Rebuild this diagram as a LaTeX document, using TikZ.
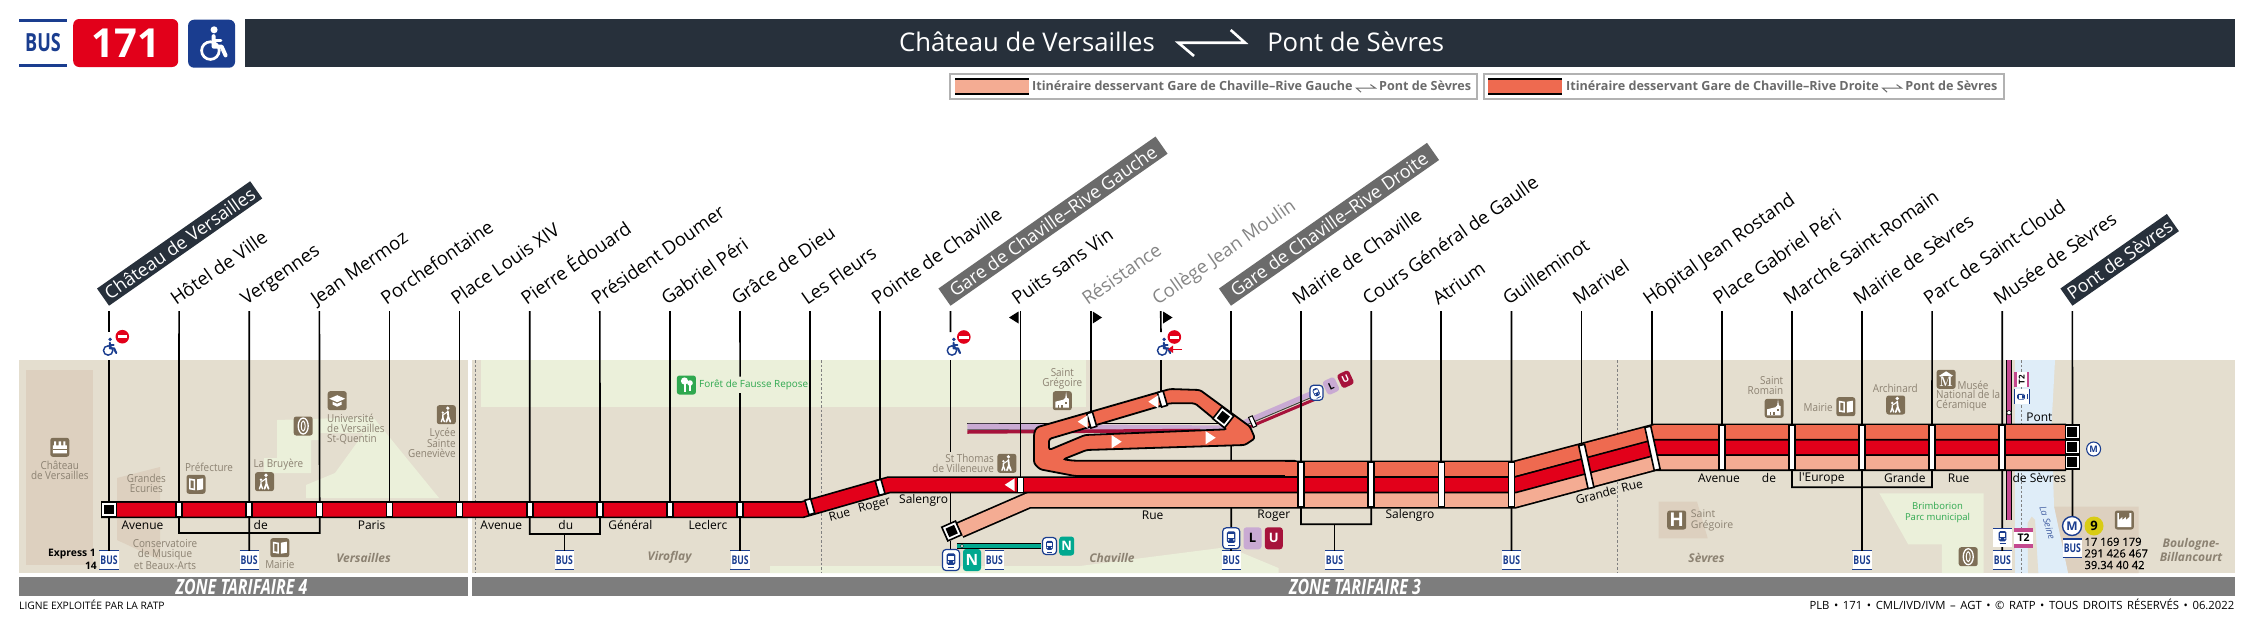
\documentclass[tikz,border=0pt]{standalone}
\usepackage{fontspec}
\setmainfont{Open Sans}
\newfontfamily\pfn{Open Sans}
\newfontfamily\pfm[FakeStretch=0.9]{Open Sans}
\newfontfamily\pfc[FakeStretch=0.72]{Open Sans}
\newfontfamily\pfz[FakeStretch=0.76]{Open Sans}
\newfontfamily\pfb[FakeBold=0.3]{Open Sans}
\definecolor{ink}{HTML}{27303B}
\definecolor{ratpred}{HTML}{E2001A}
\definecolor{ratpblue}{HTML}{1A3D8F}
\definecolor{bandor}{HTML}{EE6A50}
\definecolor{bandpale}{HTML}{F4AC93}
\definecolor{mapbg}{HTML}{E4DECF}
\definecolor{mapdark}{HTML}{DDD0BF}
\definecolor{mapgreen}{HTML}{EBF0DA}
\definecolor{river}{HTML}{DFEDF8}
\definecolor{tilebrown}{HTML}{7E6F57}
\definecolor{mapgrey}{HTML}{8C8272}
\definecolor{zonegrey}{HTML}{7D7D7D}
\definecolor{forest}{HTML}{2FA84F}
\definecolor{lilac}{HTML}{C9AAD3}
\definecolor{crimson}{HTML}{A6123B}
\definecolor{teal}{HTML}{00A88F}
\definecolor{tpink}{HTML}{C4488E}
\definecolor{lineyellow}{HTML}{D9CC14}
\tikzset{
  stem/.style={draw=black,line width=1.7pt},
  stlabel/.style={rotate=35,anchor=base west,inner sep=0pt,text=black,font=\pfn\fontsize{18.5}{18.5}\selectfont},
  stgrey/.style={stlabel,text=black!48},
  stbox/.style={rotate=35,anchor=south west,inner sep=0pt,minimum height=21pt,text=white,font=\pfn\fontsize{18}{18}\selectfont},
  street/.style={inner sep=0pt,text=black,font=\pfn\fontsize{12}{12}\selectfont},
  mapt/.style={inner sep=0pt,text=mapgrey,align=center,font=\pfm\fontsize{11}{10}\selectfont},
  commune/.style={inner sep=0pt,text=mapgrey,font=\pfn\bfseries\itshape\fontsize{12}{14}\selectfont},
  tilebox/.style={fill=tilebrown,rounded corners=2.5pt,minimum width=19pt,minimum height=19pt,inner sep=0pt},
  busbox/.style={fill=white,minimum width=19pt,minimum height=18pt,inner sep=0pt,text=ratpblue,font=\pfc\bfseries\fontsize{12}{12}\selectfont},
  busrule/.style={draw=ratpblue,line width=1.3pt},
  stopmark/.style={draw=black,fill=white,line width=1.6pt,minimum width=6pt,minimum height=15pt,inner sep=0pt},
  termbox/.style={draw=black,fill=white,line width=1.6pt,minimum width=15pt,minimum height=15pt,inner sep=0pt},
  letter/.style={rounded corners=3pt,minimum width=18pt,minimum height=22pt,inner sep=0pt,font=\pfn\bfseries\fontsize{13}{13}\selectfont},
  tramsign/.style={draw=ratpblue,fill=white,line width=1.2pt,rounded corners=3.5pt,minimum width=17pt,minimum height=21pt,inner sep=0pt},
  bandblack/.style={draw=black,line width=17pt,line join=miter},
  zonetext/.style={inner sep=0pt,text=white,font=\pfz\bfseries\itshape\fontsize{21}{21}\selectfont},
  legbox/.style={draw=black!30,line width=1.3pt,fill=white},
  legtext/.style={anchor=west,inner sep=0pt,text=black!58,font=\pfn\bfseries\fontsize{12.6}{12.6}\selectfont},
}
\newcommand\bussign[2]{\node[busbox] (#1) at (#2) {BUS};
  \draw[busrule] (#1.north west)--(#1.north east);
  \draw[busrule] (#1.south west)--(#1.south east);}
\newcommand\tile[3]{\node[tilebox] (#1) at (#2) {};
  \begin{scope}[shift={(#2)}] #3 \end{scope}}
\newcommand\walker{\fill[white] (1.5,-6.5) circle (1.8);
  \draw[white,line width=1.8pt,line cap=round] (1.5,-3.5)--(2,2)--(4,7);
  \draw[white,line width=1.8pt,line cap=round] (2,2)--(0,7);
  \draw[white,line width=1.1pt] (1.5,-3)--(-3,0);
  \fill[white] (-3.5,-2) circle (1.3);
  \draw[white,line width=1.4pt,line cap=round] (-3.5,0)--(-3.5,3)--(-5,7);
  \draw[white,line width=1.4pt,line cap=round] (-3.5,3)--(-2,7);}
\newcommand\bookpic{\fill[white] (-7,-6)--(-1,-5)--(-1,6)--(-7,5)--cycle;
  \fill[white] (7,-6)--(1,-5)--(1,6)--(7,5)--cycle;
  \fill[tilebrown] (-5.5,-4)--(-2.5,-3.5)--(-2.5,4)--(-5.5,3.5)--cycle;}
\newcommand\castlepic{\fill[white] (-7,6)--(-7,-2)--(-5.6,-2)--(-5.6,-6)--(-3.6,-6)--(-3.6,-2)--(-1.2,-2)--(-1.2,-6)--(1.2,-6)--(1.2,-2)--(3.6,-2)--(3.6,-6)--(5.6,-6)--(5.6,-2)--(7,-2)--(7,6)--cycle;
  \fill[tilebrown] (-7,2) rectangle (7,3);}
\newcommand\churchpic{\fill[white] (-7,7)--(-7,1)--(1,-1)--(3,-3)--(3.8,-9)--(4.6,-3)--(6.5,-2)--(6.5,7)--cycle;
  \fill[tilebrown] (-4.5,4) rectangle (-3,7); \fill[tilebrown] (-1,4) rectangle (.5,7); \fill[tilebrown] (3,1) rectangle (4.5,3);}
\newcommand\stadiumpic{\draw[white,line width=1.3pt] (0,0) ellipse (5 and 8); \draw[white,line width=1pt] (0,0) ellipse (2 and 5);}
\newcommand\capspic{\fill[white] (-8,-2)--(0,-5.5)--(8,-2)--(0,1.5)--cycle;
  \fill[white] (-4.5,1)--(0,3)--(4.5,1)--(4.5,4)--(0,6)--(-4.5,4)--cycle;}
\newcommand\factorypic{\fill[white] (-7,7)--(-7,-7)--(-5.5,-7)--(-5.5,0)--(-2,-3)--(-2,0)--(1.5,-3)--(1.5,0)--(5,-3)--(5,-7)--(7,-7)--(7,7)--cycle;}
\newcommand\wheelchair[3]{\begin{scope}[shift={(#1)},scale=#2,#3]
  \fill (1.3,-9.5) circle (2.2);
  \draw[line width=#2*2.5pt,line cap=round,line join=round] (1,-5.5)--(1,1)--(6,1)--(8.5,6.5);
  \draw[line width=#2*2pt,line cap=round] (1,-3)--(5.5,-3);
  \draw[line width=#2*1.7pt] (-1,3.5) circle (5.5);
  \end{scope}}
\newcommand\noentry[1]{\fill[ratpred] (#1) circle (6.8);
  \fill[white,shift={(#1)}] (-4.8,-1.5) rectangle (4.8,1.5);}
\newcommand\tramicon[2]{\begin{scope}[shift={(#1)},scale=#2]
  \fill[ratpblue,rounded corners=1.5pt] (-4.5,-7)--(4.5,-7)--(4.5,5)--(-4.5,5)--cycle;
  \fill[white] (-3.2,-4.5) rectangle (3.2,-.3);
  \fill[white] (-2.8,2) circle (.9); \fill[white] (2.8,2) circle (.9);
  \draw[ratpblue,line width=#2*1.1pt] (-3.5,8)--(3.5,8);
  \end{scope}}
\newcommand\triangleat[3]{\fill[#3,shift={(#1)},rotate=#2] (-5,-6.5)--(5,0)--(-5,6.5)--cycle;}
\newcommand\legarrow{\tikz[x=1pt,y=-1pt,baseline=-3.5pt]{\draw[black!58,line width=1pt] (14,-2.5)--(19,1)--(0,1)--(4.5,5);}}
\begin{document}
\begin{tikzpicture}[x=1pt,y=-1pt]
\useasboundingbox (0,0) rectangle (2253,627);
\fill[white] (0,0) rectangle (2253,627);
% --- header
\fill[ratpblue] (19,19) rectangle (67,22); \fill[ratpblue] (19,64) rectangle (67,67);
\node[inner sep=0pt,text=ratpblue,font=\pfc\bfseries\fontsize{25}{25}\selectfont] (buslogo) at (43,43) {BUS};
\node[fill=ratpred,rounded corners=6pt,minimum width=105pt,minimum height=48pt,inner sep=0pt,text=white,font=\pfn\bfseries\fontsize{40}{40}\selectfont] (linenum) at (125.7,43) {171};
\node[fill=ratpblue,rounded corners=6pt,minimum width=47pt,minimum height=48pt,inner sep=0pt] (access) at (211.6,43.7) {};
\wheelchair{212,45}{1.6}{white,draw=white}
\fill[ink] (245,19) rectangle (2235,67);
\node[inner sep=0pt,text=white,font=\pfn\fontsize{25.7}{25.7}\selectfont] (from) at (1027,42) {Château de Versailles};
\node[inner sep=0pt,text=white,font=\pfn\fontsize{25.7}{25.7}\selectfont] (to) at (1355.7,42) {Pont de Sèvres};
\draw[white,line width=2.6pt,line join=miter] (1230.7,30)--(1245,42.7)--(1178.3,42.7)--(1194,56);
% --- legend
\draw[legbox] (950,74) rectangle (1477,99);
\fill[black] (954.7,78.3) rectangle (1028.8,95);
\fill[bandpale] (954.7,80.3) rectangle (1028.8,93);
\node[legtext] (leg1) at (1032,86.8) {Itinéraire desservant Gare de Chaville–Rive Gauche \legarrow{} Pont de Sèvres};
\draw[legbox] (1484,74) rectangle (2004,99);
\fill[black] (1488,78.3) rectangle (1562.4,95);
\fill[bandor] (1488,80.3) rectangle (1562.4,93);
\node[legtext] (leg2) at (1566,86.8) {Itinéraire desservant Gare de Chaville–Rive Droite \legarrow{} Pont de Sèvres};
% --- map background
\fill[mapbg] (19,360) rectangle (468,573);
\fill[mapbg] (471.6,360) rectangle (2234.8,573);
\fill[mapdark] (26,370) rectangle (93,565);
\fill[mapdark] (117,478)--(160,467)--(160,560)--(117,540)--cycle;
\fill[mapgreen] (264,473)--(264,458)--(277,458)--(277,420)--(373,417)--(439,498)--(306,498)--(306,485)--(335,473)--(364,433)--(320,433)--(320,440)--(311,440)--(311,473)--cycle;
\fill[mapgreen] (481,360) rectangle (1086,407);
\fill[mapgreen] (770,573)--(770,566)--(1080,566)--(1228,547)--(1278.5,568)--(1278.5,573)--cycle;
\fill[mapdark] (1658.7,501.7)--(1697,501.7)--(1707.7,538.3)--(1658.7,538.3)--cycle;
\fill[mapgreen] (1879.4,493.3)--(1983.6,493.3)--(1983.6,573)--(1941.8,573)--(1941.8,544.3)--(1908.2,544.3)--cycle;
\fill[mapdark] (2054,506.7)--(2138.7,506.7)--(2138.7,573)--(2068,573)--cycle;
\fill[river] (2015,360)--(2055,360)--(2051.5,425)--(2054,506.7)--(2068,573)--(2015,573)--cycle;
\fill[mapbg] (2028,573)--(2027.5,523)--(2031.7,516.7)--(2035,520)--(2038.3,573)--cycle;
\foreach \cx in {475,821.7,1617,2021}
  \draw[black!50,line width=.9pt,dash pattern=on 2.5pt off 2pt] (\cx,360)--(\cx,573);
% --- T2 line
\draw[black,line width=5.2pt] (2009,360)--(2009,520);
\draw[tpink,line width=4pt] (2009,360)--(2009,520);
\fill[white,draw=black,line width=.6pt] (2009,412.7) circle (2.2);
% --- zones
\fill[zonegrey] (19,577) rectangle (468,596);
\fill[zonegrey] (471.6,577) rectangle (2234.8,596);
\node[zonetext] (z4) at (241.5,587) {ZONE TARIFAIRE 4};
\node[zonetext] (z3) at (1355,587) {ZONE TARIFAIRE 3};
\node[anchor=west,inner sep=0pt,text=black,font=\pfn\fontsize{10.3}{12}\selectfont] (foot1) at (19,604.5) {LIGNE EXPLOITÉE PAR LA RATP};
\node[anchor=east,inner sep=0pt,text=black,font=\pfn\fontsize{11.3}{12}\selectfont] (foot2) at (2234.5,604.5) {\spaceskip=4.6pt PLB • 171 • CML/IVD/IVM – AGT • © RATP • TOUS DROITS RÉSERVÉS • 06.2022};
% --- stations
\foreach \i in {0,...,28} \coordinate (t\i) at ({109+70.12*\i},311);
\foreach \i/\t in {1/Hôtel de Ville,2/Vergennes,3/Jean Mermoz,4/Porchefontaine,5/Place Louis XIV,6/Pierre Édouard,7/Président Doumer,8/Gabriel Péri,9/Grâce de Dieu,10/Les Fleurs,11/Pointe de Chaville,13/Puits sans Vin,17/Mairie de Chaville,18/Cours Général de Gaulle,19/Atrium,20/Guilleminot,21/Marivel,22/Hôpital Jean Rostand,23/Place Gabriel Péri,24/Marché Saint-Romain,25/Mairie de Sèvres,26/Parc de Saint-Cloud,27/Musée de Sèvres}
  \node[stlabel] (lab\i) at ([shift={(-3,-5)}]t\i) {\t};
\node[stgrey] (lab14) at ([shift={(-3,-5)}]t14) {Résistance};
\node[stgrey] (lab15) at ([shift={(-3,-5)}]t15) {Collège Jean Moulin};
\node[stbox,fill=ink,minimum width=187pt] (lab0) at ([shift={(0,-5)}]t0) {Château de Versailles};
\node[stbox,fill=black!58,minimum width=265pt] (lab12) at ([shift={(0,-5)}]t12) {Gare de Chaville–Rive Gauche};
\node[stbox,fill=black!58,minimum width=254pt] (lab16) at ([shift={(0,-5)}]t16) {Gare de Chaville–Rive Droite};
\node[stbox,fill=ink,minimum width=130pt] (lab28) at ([shift={(0,-5)}]t28) {Pont de Sèvres};
% --- bus signs
\bussign{bus0}{109,560}
\bussign{bus2}{249.2,560}
\bussign{bus67}{564.4,560}
\bussign{bus9}{740.1,560}
\bussign{bus12}{994.4,560}
\bussign{bus16}{1231.2,560}
\bussign{bus1718}{1334.5,560}
\bussign{bus20}{1511.5,560}
\bussign{bus25}{1862,560}
\bussign{bus27}{2002.3,560}
% --- L/U rail
\draw[black,line width=1pt] (967.3,423)--(1240,423);
\draw[lilac,line width=6pt] (967.3,426.5)--(1225,428.5);
\draw[black!75,line width=1pt] (967.3,429.8)--(1225,431);
\draw[crimson,line width=3.5pt] (967.3,432)--(1200,430.5);
\draw[lilac,line width=5pt] (1243,423)--(1315,392);
\draw[black!75,line width=1pt] (1245,425.5)--(1316,395.5);
\draw[crimson,line width=3pt] (1247,428)--(1318,398);
% --- stems
\draw[stem] (t0)--(109,332);
\draw[stem] (109,360)--(bus0.north);
\draw[stem] (t1)--(178.9,533)--(319.7,533)--(t3);
\draw[stem] (t2)--(bus2.north);
\draw[stem] (t4)--(t4 |- 0,505);
\draw[stem] (t5)--(t5 |- 0,505);
\draw[stem] (t6)--(529.7,534)--(600,534)--(t7);
\draw[stem] (564.4,534)--(bus67.north);
\draw[stem] (t8)--(t8 |- 0,505);
\draw[stem] (t9)--(740.1,376.5);
\draw[stem] (740.1,393)--(bus9.north);
\draw[stem] (t10)--(t10 |- 0,505);
\draw[stem] (t11)--(t11 |- 0,487);
\draw[stem] (t12)--(950.4,332);
\draw[stem] (950.4,360)--(950.4,452);
\draw[stem] (950.4,493)--(950.4,528);
\draw[stem] (950.4,541)--(950.4,550);
\draw[stem] (t13)--(t13 |- 0,485);
\draw[stem] (t14)--(t14 |- 0,420);
\draw[stem] (t15)--(1160.9,332);
\draw[stem] (1160.9,360)--(1160.9,398);
\draw[stem] (t16)--(1231.2,529);
\draw[stem] (1231.2,548)--(bus16.north);
\draw[stem] (t17)--(1301,524.3)--(1371.3,524.3)--(t18);
\draw[stem] (1334.5,524.3)--(bus1718.north);
\draw[stem] (t19)--(t19 |- 0,480);
\draw[stem] (t20)--(bus20.north);
\draw[stem] (t21)--(t21 |- 0,450);
\draw[stem] (t22)--(t22 |- 0,430);
\draw[stem] (t23)--(t23 |- 0,430);
\draw[stem] (t24)--(1792,487.3)--(1932,487.3)--(t26);
\draw[stem] (t25)--(bus25.north);
\draw[stem] (t27)--(bus27.north);
\draw[stem] (t28)--(2072.4,518);
\fill[black] (1018.5,311.5)--(1018.5,323.5)--(1009,317.5)--cycle;
\fill[black] (1092.8,311.5)--(1092.8,323.5)--(1102,317.5)--cycle;
\fill[black] (1163.1,311.5)--(1163.1,323.5)--(1172.5,317.5)--cycle;
% --- branch loop, pale branch, bands
\begin{scope}[shift={(930,370)},x=.3333pt,y=-.3333pt]
\fill[bandor,even odd rule,draw=black,line width=1.8pt,rounded corners=2.5pt]
  (1100,272)--(430,272)--(400,268)--(470,240)--(945,225)--(975,205)--(960,170)--(810,60)--(720,57)--(320,172)--(312,190)--(312,280)--(330,298)--(435,318)--(1100,318)--cycle
  (357,207)--(357,240)--(465,195)--(890,178)--(795,100)--(718,100)--cycle;
\end{scope}
\draw[bandblack] (1285,469)--(1515,469)--(1655,432)--(2066,432);
\draw[bandor,line width=13.6pt,line join=miter] (1285,469)--(1515,469)--(1655,432)--(2066,432);
\draw[bandblack] (960,530)--(1029,500)--(1515,500)--(1655,462.5)--(2066,462.5);
\draw[bandpale,line width=13.6pt,line join=miter] (960,530)--(1029,500)--(1515,500)--(1655,462.5)--(2066,462.5);
\draw[bandblack] (101,509.7)--(802,509.7)--(889,484.8)--(1515,484.8)--(1655,447.3)--(2066,447.3);
\draw[ratpred,line width=13.6pt,line join=miter] (101,509.7)--(802,509.7)--(889,484.8)--(1515,484.8)--(1655,447.3)--(2066,447.3);
% --- stops
\node[termbox] (term0) at (109,509.7) {}; \fill[black] (104.3,505) rectangle (113.8,514);
\foreach \i in {1,...,9} \node[stopmark] (stop\i) at ([shift={(0,198.7)}]t\i) {};
\node[stopmark,rotate=15.7] (stop10) at (809.8,506.7) {};
\node[stopmark,rotate=15.7] (stop11) at (880.1,487.3) {};
\node[stopmark] (stop13) at ([shift={(0,173.8)}]t13) {};
\foreach \i in {17,18,19,20} \node[stopmark,minimum height=44pt] (stop\i) at ([shift={(0,173.5)}]t\i) {};
\node[stopmark,minimum height=44pt,rotate=12.3] (stop21) at (1586.3,466.5) {};
\node[stopmark,minimum height=44pt,rotate=12.3] (stop22) at (1652.5,448.3) {};
\foreach \i in {23,...,27} \node[stopmark,minimum height=44pt] (stop\i) at ([shift={(0,136.3)}]t\i) {};
\foreach \yy/\nm in {432/a,447/b,462/c} {
  \node[termbox,minimum height=14pt,minimum width=14pt] (term28\nm) at (2072.3,\yy) {};
  \fill[black] (2067.3,\yy-4.6) rectangle (2077.3,\yy+4.6);}
\begin{scope}[shift={(930,370)},x=.3333pt,y=-.3333pt]
\node[stopmark,rotate=16.4] (stop14) at (485,150) {};
\node[stopmark,rotate=16.4] (stop15) at (697,87) {};
\node[stopmark,rotate=24,minimum width=4pt,minimum height=11pt,line width=1pt] (stoprail) at (968,155) {};
\node[termbox,rotate=-38] (term16) at (880,142) {};
\fill[black,shift={(880,142)},rotate=-38] (-14,-14) rectangle (14,14);
\node[termbox,rotate=23.8] (term12) at (65,483) {};
\fill[black,shift={(65,483)},rotate=23.8] (-14,-14) rectangle (14,14);
\end{scope}
\triangleat{1009.7,484.8}{180}{white}
\triangleat{1082.7,421.7}{180}{white}
\triangleat{1153.3,401.7}{180}{white}
\triangleat{1116.7,441.7}{0}{white}
\triangleat{1210.7,437.7}{0}{white}
% --- street names
\node[street] (st1) at (142.5,525.3) {Avenue};
\node[street] (st2) at (260.7,525.3) {de};
\node[street] (st3) at (371.6,525.3) {Paris};
\node[street] (st4) at (501.3,525.3) {Avenue};
\node[street] (st5) at (565.8,525.3) {du};
\node[street] (st6) at (630.4,525.3) {Général};
\node[street] (st7) at (707.9,525.3) {Leclerc};
\node[street,rotate=15] (st8) at (839.4,514.3) {Rue};
\node[street,rotate=15] (st9) at (874.4,505.7) {Roger};
\node[street] (st10) at (923.6,500) {Salengro};
\node[street] (st11) at (1152.7,515.7) {Rue};
\node[street] (st12) at (1273.8,515.7) {Roger};
\node[street] (st13) at (1410,515.7) {Salengro};
\node[street,rotate=15] (st14) at (1596,495) {Grande};
\node[street,rotate=15] (st15) at (1632,486) {Rue};
\node[street] (st16) at (1719,478) {Avenue};
\node[street] (st17) at (1769,478) {de};
\node[street] (st18) at (1821.8,478) {l'Europe};
\node[street] (st19) at (1904.8,478) {Grande};
\node[street] (st20) at (1958.6,478) {Rue};
\node[street] (st21) at (2039.3,417.5) {Pont};
\node[street] (st22) at (2039.3,478) {de Sèvres};
% --- map labels and tiles
\tile{iChateau}{59.8,447.3}{\castlepic}
\node[mapt] (m1) at (59.8,470.7) {Château\\de Versailles};
\node[mapt] (m2) at (209,467.7) {Préfecture};
\tile{iPref}{196,484.3}{\bookpic}
\node[mapt] (m3) at (278.4,465) {La Bruyère};
\tile{iBruy}{264.5,481.7}{\walker}
\node[mapt] (m4) at (146.4,483.3) {Grandes\\Ecuries};
\node[mapt] (m5) at (165,554.7) {Conservatoire\\de Musique\\et Beaux-Arts};
\tile{iMairieV}{279.8,547.7}{\bookpic}
\node[mapt] (m6) at (279.8,565) {Mairie};
\tile{iUniv}{337.2,400.7}{\capspic}
\node[mapt,align=left,anchor=west] (m7) at (327,429) {Université\\de Versailles\\St-Quentin};
\tile{iStad1}{303.2,426}{\stadiumpic}
\tile{iLycee}{446.3,414.7}{\walker}
\node[mapt,align=right,anchor=east] (m8) at (455.8,442.7) {Lycée\\Sainte\\Geneviève};
\node[commune] (c1) at (363.5,557.7) {Versailles};
\node[commune] (c2) at (669.6,557.7) {Viroflay};
\node[commune] (c3) at (1112,557.7) {Chaville};
\node[commune] (c4) at (1706.5,557.7) {Sèvres};
\node[commune,align=center] (c5) at (2191,549.7) {Boulogne-\\Billancourt};
\node[anchor=east,inner sep=0pt,text=black,font=\pfn\bfseries\fontsize{10.3}{11.5}\selectfont] (ex1) at (96,554.3) {Express 1};
\node[anchor=east,inner sep=0pt,text=black,font=\pfn\bfseries\fontsize{10.3}{11.5}\selectfont] (ex2) at (97,566) {14};
\node[fill=forest,rounded corners=2.5pt,minimum width=19pt,minimum height=19pt,inner sep=0pt] (iForet) at (686.4,385) {};
\fill[white] (684.5,381) circle (3.6) (690,383) circle (2.8); \fill[white] (683.5,383) rectangle (685.5,392); \fill[white] (689.4,385) rectangle (690.6,391);
\node[anchor=west,inner sep=0pt,text=forest,font=\pfn\fontsize{9.9}{11.5}\selectfont] (foret) at (699,385) {Forêt de Fausse Repose};
\node[mapt,align=right,anchor=east] (m9) at (994,463.3) {St Thomas\\de Villeneuve};
\tile{iThomas}{1006.9,463.3}{\walker}
\node[mapt] (m10) at (1062.3,378.3) {Saint\\Grégoire};
\tile{iStG}{1062.3,400.7}{\churchpic}
\node[mapt,align=right,anchor=east] (m11) at (1783.3,385.7) {Saint\\Romain};
\tile{iStR}{1774.2,408.3}{\churchpic}
\node[mapt,anchor=east] (m12) at (1832.8,407.3) {Mairie};
\tile{iMairieS}{1845.8,406.7}{\bookpic}
\node[mapt] (m13) at (1895.2,388.3) {Archinard};
\tile{iArch}{1895.7,405}{\walker}
\tile{iMusee}{1946.1,379.3}{\fill[white] (-7,-3.5)--(0,-8)--(7,-3.5)--cycle;
  \node[inner sep=0pt,text=white,font=\fontfamily{lmr}\bfseries\fontsize{14}{14}\selectfont] at (0,2.5) {M};}
\node[mapt] (m14a) at (1973,385.3) {Musée};
\node[mapt,align=left,anchor=west] (m14) at (1936,400.5) {National de la\\Céramique};
\tile{iHop}{1676.7,520}{\node[inner sep=0pt,text=white,font=\pfn\bfseries\fontsize{19}{19}\selectfont] at (0,0) {H};}
\node[mapt,align=left,anchor=west,font=\pfn\fontsize{10.5}{11.5}\selectfont] (m15) at (1690.7,520.5) {Saint\\Grégoire};
\node[inner sep=0pt,text=forest,align=center,font=\pfn\fontsize{9.5}{11.5}\selectfont] (m16) at (1937.5,512.5) {Brimborion\\Parc municipal};
\tile{iStad2}{1968.2,556.7}{\stadiumpic}
\tile{iFact}{2124.3,520}{\factorypic}
\node[inner sep=0pt,rotate=-74,text=ratpblue!80,font=\pfn\itshape\fontsize{9.5}{10.5}\selectfont] (seine) at (2047.5,523) {La Seine};
% --- wheelchair notes
\wheelchair{109,347.5}{.85}{ratpblue,draw=ratpblue}
\noentry{122.3,336.7}
\wheelchair{952.8,347.5}{.85}{ratpblue,draw=ratpblue}
\noentry{963.8,337}
\wheelchair{1163,347.5}{.85}{ratpblue,draw=ratpblue}
\noentry{1174.3,337}
\draw[ratpred,line width=1.5pt] (1182,349.3)--(1171,349.3);
\fill[ratpred] (1168,349.3)--(1173,345.5)--(1173,353)--cycle;
% --- correspondences
\node[tramsign] (tr16) at (1231.2,538.3) {}; \tramicon{1231.2,538}{.95}
\node[letter,fill=lilac,text=black] (L16) at (1252.5,538.3) {L};
\node[letter,fill=crimson,text=white] (U16) at (1273.8,538.3) {U};
\node[tramsign] (tr12) at (951,560) {}; \tramicon{951,560}{.95}
\node[letter,fill=teal,text=white,font=\pfn\bfseries\fontsize{15.5}{15.5}\selectfont] (N12) at (972,560) {N};
\draw[black,line width=5.4pt] (956.6,546)--(1040.8,546);
\draw[teal,line width=3.6pt] (956.6,546)--(1040.8,546);
\fill[white,draw=black,line width=.4pt] (962,546) circle (1.6);
\node[tramsign,minimum width=14pt,minimum height=17pt] (tr12b) at (1049.5,546) {}; \tramicon{1049.5,546}{.75}
\node[letter,fill=teal,text=white,minimum width=15pt,minimum height=19pt] (N12b) at (1066.7,546) {N};
\begin{scope}[rotate around={25:(1331,386)}]
\node[tramsign,minimum width=13pt,minimum height=15pt] (trr) at (1315,386) {}; \tramicon{1315,386}{.65}
\node[letter,fill=lilac,text=black,minimum width=13pt,minimum height=15pt,font=\pfn\bfseries\fontsize{9.5}{9.5}\selectfont,rotate=25] (Lr) at (1331,386) {L};
\node[letter,fill=crimson,text=white,minimum width=13pt,minimum height=15pt,font=\pfn\bfseries\fontsize{9.5}{9.5}\selectfont,rotate=25] (Ur) at (1347,386) {U};
\end{scope}
\node[fill=white,minimum height=18.5pt,minimum width=18.5pt,inner sep=0pt] (tr27) at (2002.5,537.3) {}; \tramicon{2002.5,537}{.85}
\draw[ratpblue,line width=1.3pt] (1993.3,528.5)--(2011.7,528.5);
\node[fill=white,minimum width=19.3pt,minimum height=19pt,inner sep=0pt,text=black,font=\pfn\bfseries\fontsize{10.5}{10.5}\selectfont] (T2b) at (2023.6,538) {T2};
\fill[tpink] (2014,528.3) rectangle (2033.3,532.3); \fill[tpink] (2014,543.7) rectangle (2033.3,547.7);
\node[fill=white,rotate=90,minimum width=15pt,minimum height=15pt,inner sep=0pt,text=black,font=\pfn\bfseries\fontsize{8}{8}\selectfont] (T2a) at (2021.7,379.8) {T2};
\fill[tpink] (2014,372.3) rectangle (2016.7,387.3); \fill[tpink] (2026.6,372.3) rectangle (2029.3,387.3);
\node[fill=white,inner sep=0pt,minimum width=15pt,minimum height=15pt] (tr27a) at (2021.7,396.7) {};
\begin{scope}[rotate around={90:(2021.7,396.7)}] \tramicon{2021.7,396.7}{.65} \end{scope}
\draw[ratpblue,line width=1pt] (2014.3,389)--(2014.3,404.3); \draw[ratpblue,line width=1pt] (2029,389)--(2029,404.3);
\node[circle,fill=white,draw=ratpblue,line width=1.4pt,minimum size=19pt,inner sep=0pt,text=ratpblue,font=\pfn\bfseries\fontsize{12}{12}\selectfont] (M9) at (2072,526) {M};
\node[circle,fill=lineyellow,minimum size=19pt,inner sep=0pt,text=black,font=\pfn\bfseries\fontsize{13}{13}\selectfont] (L9) at (2094,526) {9};
\bussign{bus28}{2072.4,548.3}
\node[anchor=north west,inner sep=0pt,text=black,font=\pfb\fontsize{11.2}{11.6}\selectfont,align=left] (lines28) at (2084.3,537.5) {17 169 179\\291 426 467\\39.34 40 42};
\node[circle,fill=white,draw=ratpblue,line width=1.1pt,minimum size=14pt,inner sep=0pt,text=ratpblue,font=\pfn\bfseries\fontsize{9}{9}\selectfont] (Mend) at (2093.6,449) {M};
\end{tikzpicture}
\end{document}
